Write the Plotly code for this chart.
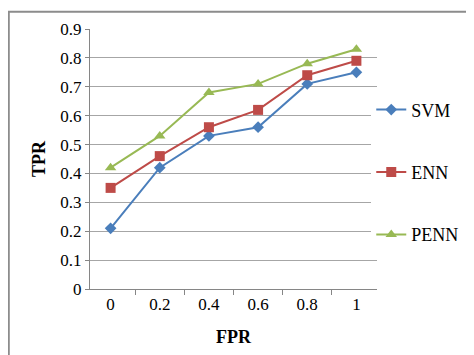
import plotly.graph_objects as go

fpr = ["0", "0.2", "0.4", "0.6", "0.8", "1"]
svm = [0.21, 0.42, 0.53, 0.56, 0.71, 0.75]
enn = [0.35, 0.46, 0.56, 0.62, 0.74, 0.79]
penn = [0.42, 0.53, 0.68, 0.71, 0.78, 0.83]
y_ticks = [0, 0.1, 0.2, 0.3, 0.4, 0.5, 0.6, 0.7, 0.8, 0.9]
y_tick_labels = ["0", "0.1", "0.2", "0.3", "0.4", "0.5", "0.6", "0.7", "0.8", "0.9"]

series = [
    ("SVM", svm, "#4a7ebb", "diamond", 9),
    ("ENN", enn, "#be4b48", "square", 10),
    ("PENN", penn, "#98b954", "triangle-up", 10),
]

fig = go.Figure()
for name, vals, color, sym, size in series:
    fig.add_trace(go.Scatter(
        x=fpr, y=vals, name=name, mode="lines+markers",
        line=dict(color=color, width=2),
        marker=dict(symbol=sym, size=size, color=color),
        legendgroup=name,
    ))

font_family = "'Liberation Serif', 'Times New Roman', Times, serif"
fig.update_layout(
    width=474, height=355,
    margin=dict(l=82, r=105, t=19, b=74),
    paper_bgcolor="white", plot_bgcolor="white",
    font=dict(family=font_family, size=17, color="black"),
    showlegend=True,
    legend=dict(x=0.98, xanchor="left", y=0.76, yanchor="top",
                tracegroupgap=36, font=dict(size=18, family=font_family),
                itemwidth=30),
    xaxis=dict(
        type="category", tickson="boundaries", ticks="outside", ticklen=5,
        tickcolor="#868686", showline=True, linecolor="#868686", linewidth=1,
        showgrid=False, tickfont=dict(size=17, family=font_family),
        title=dict(text="<b>FPR</b>", font=dict(size=18, family=font_family), standoff=16),
    ),
    yaxis=dict(
        range=[0, 0.9], tickvals=y_ticks, ticktext=y_tick_labels,
        ticks="outside", ticklen=4, tickcolor="#868686",
        showline=True, linecolor="#868686", linewidth=1,
        showgrid=True, gridcolor="#a6a6a6", gridwidth=1,
        zeroline=False, tickfont=dict(size=17, family=font_family),
        title=dict(text="<b>TPR</b>", font=dict(size=18, family=font_family), standoff=10),
    ),
    shapes=[dict(type="rect", xref="paper", yref="paper",
                 x0=-0.283, x1=1.36, y0=-0.27, y1=1.066,
                 line=dict(color="#8c8c8c", width=2))],
)

fig.write_html("out.html")
